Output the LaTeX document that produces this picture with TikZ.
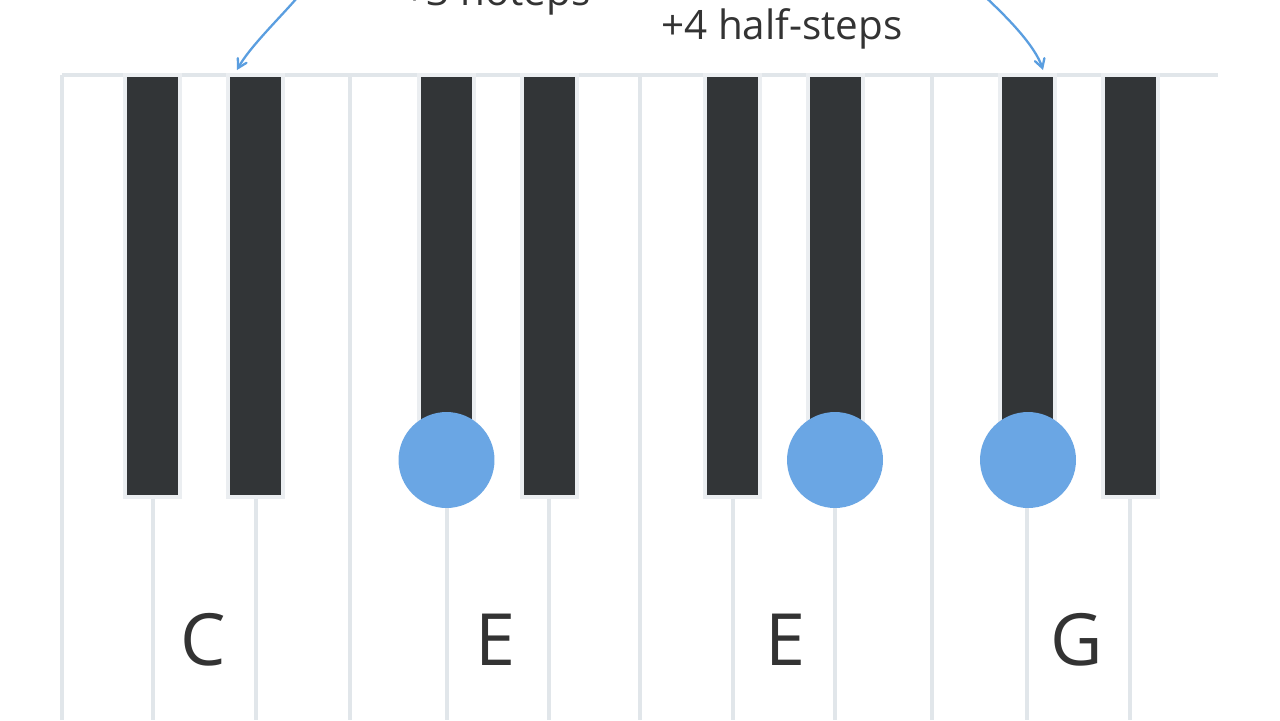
\documentclass[tikz,border=0pt]{standalone}
\usepackage{fontspec}
\setmainfont{Open Sans}
\usepackage{tikz}
\usetikzlibrary{calc, shapes, arrows}

\definecolor{keyblack}{HTML}{323537}
\definecolor{keyline}{HTML}{E1E6EA}
\definecolor{keyhalo}{HTML}{EBEEF1}
\definecolor{dotblue}{HTML}{6AA6E4}
\definecolor{arrowblue}{HTML}{5A9EE0}
\definecolor{labelgray}{HTML}{333333}

\begin{document}
\begin{tikzpicture}[x=0.02cm,y=-0.02cm]
\tikzstyle{blackkey}=[rectangle,fill=keyblack,draw=keyhalo,line width=0.08cm,minimum width=1.1cm,minimum height=8.44cm,inner sep=0pt]
\tikzstyle{sep}=[keyline,line width=0.08cm]
\tikzstyle{dot}=[circle,fill=dotblue,minimum size=1.92cm,inner sep=0pt]
\tikzstyle{note}=[anchor=base,text=labelgray,font=\fontsize{41}{41}\selectfont]
\tikzstyle{step label}=[anchor=base,text=labelgray,font=\fontsize{23}{28}\selectfont]
\tikzstyle{jump}=[arrowblue,line width=1.3pt,->,>=angle 60]
\useasboundingbox (0,0) rectangle (1280,720);
\clip (0,0) rectangle (1280,720);
\fill[white] (0,0) rectangle (1280,720);
% white keys
\draw[sep] (62,75) -- (1218,75);
\draw[sep] (62,75) -- (62,720);
\draw[sep] (350,75) -- (350,720);
\draw[sep] (640,75) -- (640,720);
\draw[sep] (932,75) -- (932,720);
% black keys
\node[blackkey] (bk1) at (152.5,286) {};
\node[blackkey] (bk2) at (255.5,286) {};
\node[blackkey] (bk3) at (446.5,286) {};
\node[blackkey] (bk4) at (549,286) {};
\node[blackkey] (bk5) at (732.5,286) {};
\node[blackkey] (bk6) at (835,286) {};
\node[blackkey] (bk7) at (1027,286) {};
\node[blackkey] (bk8) at (1130,286) {};
\draw[sep] (bk1.south) -- (bk1.south |- 0,720);
\draw[sep] (bk2.south) -- (bk2.south |- 0,720);
\draw[sep] (bk3.south) -- (bk3.south |- 0,720);
\draw[sep] (bk4.south) -- (bk4.south |- 0,720);
\draw[sep] (bk5.south) -- (bk5.south |- 0,720);
\draw[sep] (bk6.south) -- (bk6.south |- 0,720);
\draw[sep] (bk7.south) -- (bk7.south |- 0,720);
\draw[sep] (bk8.south) -- (bk8.south |- 0,720);
% chord tones
\node[dot] (D_1) at (446.5,460) {};
\node[dot] (D_2) at (835,460) {};
\node[dot] (D_3) at (1028,460) {};
\node[note] (N_C) at (203.5,665) {C};
\node[note] (N_E1) at (496,665) {E};
\node[note] (N_E2) at (786,665) {E};
\node[note] (N_G) at (1077,665) {G};
% intervals
\node[step label] (S_3) at (497,6) {+3 noteps};
\node[step label] (S_4) at (782,39) {+4 half-steps};
\coordinate (A_1) at (302,-8);
\coordinate (B_1) at (237,70);
\coordinate (A_2) at (980,-8);
\coordinate (B_2) at (1043,70);
\draw[jump] (A_1) .. controls (284,14) and (250,46) .. (B_1);
\draw[jump] (A_2) .. controls (1005,15) and (1035,45) .. (B_2);
\end{tikzpicture}
\end{document}
